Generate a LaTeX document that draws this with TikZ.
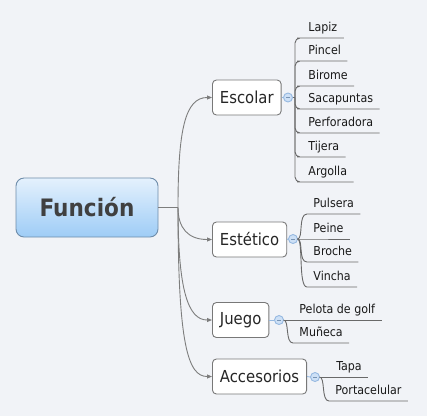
\documentclass[tikz,border=0pt]{standalone}
\usepackage{fontspec}
\setmainfont{DejaVu Sans Condensed}
\usetikzlibrary{arrows.meta}

\definecolor{bgcol}{RGB}{241,243,247}
\definecolor{rootborder}{RGB}{110,140,170}
\definecolor{roottop}{RGB}{228,241,253}
\definecolor{rootbottom}{RGB}{158,204,246}
\definecolor{roottext}{RGB}{64,64,64}
\definecolor{boxcol}{RGB}{120,120,120}
\definecolor{linkcol}{RGB}{125,125,125}
\definecolor{leafcol}{RGB}{105,105,105}
\definecolor{togglefill}{RGB}{205,224,246}
\definecolor{toggledraw}{RGB}{150,185,225}

\begin{document}
\begin{tikzpicture}[x=1pt,y=-1pt, line width=0.9pt,
    root/.style={draw=rootborder, rounded corners=8pt, top color=roottop, bottom color=rootbottom,
      minimum width=142pt, minimum height=59pt, text=roottext,
      font=\fontsize{24}{28}\selectfont\bfseries},
    topic/.style={draw=boxcol, fill=white, rounded corners=4pt, anchor=west,
      minimum height=35pt, inner xsep=7.5pt, text=black!85,
      font=\fontsize{16.5}{19}\selectfont},
    leaf/.style={anchor=south west, inner xsep=6pt, inner ysep=3pt, text depth=3.5pt,
      text=black!90, font=\fontsize{12.3}{14}\selectfont},
    toggle/.style={circle, draw=toggledraw, fill=togglefill, minimum size=9pt, inner sep=0pt,
      path picture={\draw[toggledraw!80!black, line width=0.7pt] ([xshift=-2pt]path picture bounding box.center)
        -- ([xshift=2pt]path picture bounding box.center);}},
    link/.style={draw=linkcol, -{Triangle[length=5pt,width=4pt]}},
    branch/.style={draw=leafcol}
  ]
    % Background and size
    \fill[bgcol] (0,0) rectangle (427,416);
    \useasboundingbox (0,0) rectangle (427,416);

    % Central topic
    \node[root] (funcion) at (87,207.5) {Función};
    \coordinate (fork) at (178,207.5);
    \draw[linkcol] (funcion.east) -- (fork);

    % Main topics
    \node[topic] (escolar) at (212,97.5) {Escolar};
    \node[topic] (estetico) at (212,239.5) {Estético};
    \node[topic] (juego) at (212,320) {Juego};
    \node[topic] (accesorios) at (212,376.5) {Accesorios};

    % Links from the central topic
    \draw[link] (fork) .. controls (178,130) and (185,97.5) .. (escolar.west);
    \draw[link] (fork) .. controls (178,228) and (188,239.5) .. (estetico.west);
    \draw[link] (fork) .. controls (178,290) and (188,320) .. (juego.west);
    \draw[link] (fork) .. controls (178,345) and (188,376.5) .. (accesorios.west);

    % Collapse buttons
    \node[toggle] (esc-t) at (288,97.5) {};
    \node[toggle] (est-t) at (293,239) {};
    \node[toggle] (jue-t) at (279,320) {};
    \node[toggle] (acc-t) at (315,377) {};
    \coordinate (esc-j) at (295,97.5);
    \coordinate (est-j) at (297.5,239);
    \coordinate (jue-j) at (283.5,320);
    \coordinate (acc-j) at (319.5,377);
    \draw[toggledraw] (escolar.east) -- (esc-t.west);
    \draw[toggledraw] (estetico.east) -- (est-t.west);
    \draw[toggledraw] (juego.east) -- (jue-t.west);
    \draw[toggledraw] (accesorios.east) -- (acc-t.west);
    \draw[branch] (esc-t.east) -- (esc-j);

    % Escolar subtopics
    \node[leaf] (lapiz) at (302,38) {Lapiz};
    \node[leaf] (pincel) at (302,61) {Pincel};
    \node[leaf] (birome) at (302,86) {Birome};
    \node[leaf] (sacapuntas) at (302,109) {Sacapuntas};
    \node[leaf] (perforadora) at (302,133) {Perforadora};
    \node[leaf] (tijera) at (302,157) {Tijera};
    \node[leaf] (argolla) at (302,182) {Argolla};
    \draw[branch, rounded corners=5pt] (esc-j) |- (lapiz.south west) -- (lapiz.south east);
    \draw[branch, rounded corners=5pt] (esc-j) |- (pincel.south west) -- (pincel.south east);
    \draw[branch, rounded corners=5pt] (esc-j) |- (birome.south west) -- (birome.south east);
    \draw[branch, rounded corners=5pt] (esc-j) |- (sacapuntas.south west) -- (sacapuntas.south east);
    \draw[branch, rounded corners=5pt] (esc-j) |- (perforadora.south west) -- (perforadora.south east);
    \draw[branch, rounded corners=5pt] (esc-j) |- (tijera.south west) -- (tijera.south east);
    \draw[branch, rounded corners=5pt] (esc-j) |- (argolla.south west) -- (argolla.south east);

    % Estetico subtopics
    \node[leaf] (pulsera) at (307,214) {Pulsera};
    \node[leaf] (peine) at (307,239) {Peine};
    \node[leaf] (broche) at (307,262) {Broche};
    \node[leaf] (vincha) at (307,287) {Vincha};
    \draw[branch] (est-j) .. controls +(6,0) and +(-9,0) .. (pulsera.south west) -- (pulsera.south east);
    \draw[branch] (est-j) -- (peine.south west) -- (peine.south east);
    \draw[branch] (est-j) .. controls +(6,0) and +(-9,0) .. (broche.south west) -- (broche.south east);
    \draw[branch] (est-j) .. controls +(6,0) and +(-9,0) .. (vincha.south west) -- (vincha.south east);

    % Juego subtopics
    \node[leaf] (pelota) at (293,320) {Pelota de golf};
    \node[leaf] (muneca) at (293,343) {Muñeca};
    \draw[branch] (jue-j) -- (pelota.south west) -- (pelota.south east);
    \draw[branch] (jue-j) .. controls +(6,0) and +(-8,0) .. (muneca.south west) -- (muneca.south east);

    % Accesorios subtopics
    \node[leaf] (tapa) at (330,377) {Tapa};
    \node[leaf] (portacelular) at (329,401) {Portacelular};
    \draw[branch] (acc-j) -- (tapa.south west) -- (tapa.south east);
    \draw[branch] (acc-j) .. controls +(6,0) and +(-8,0) .. (portacelular.south west) -- (portacelular.south east);
\end{tikzpicture}
\end{document}
